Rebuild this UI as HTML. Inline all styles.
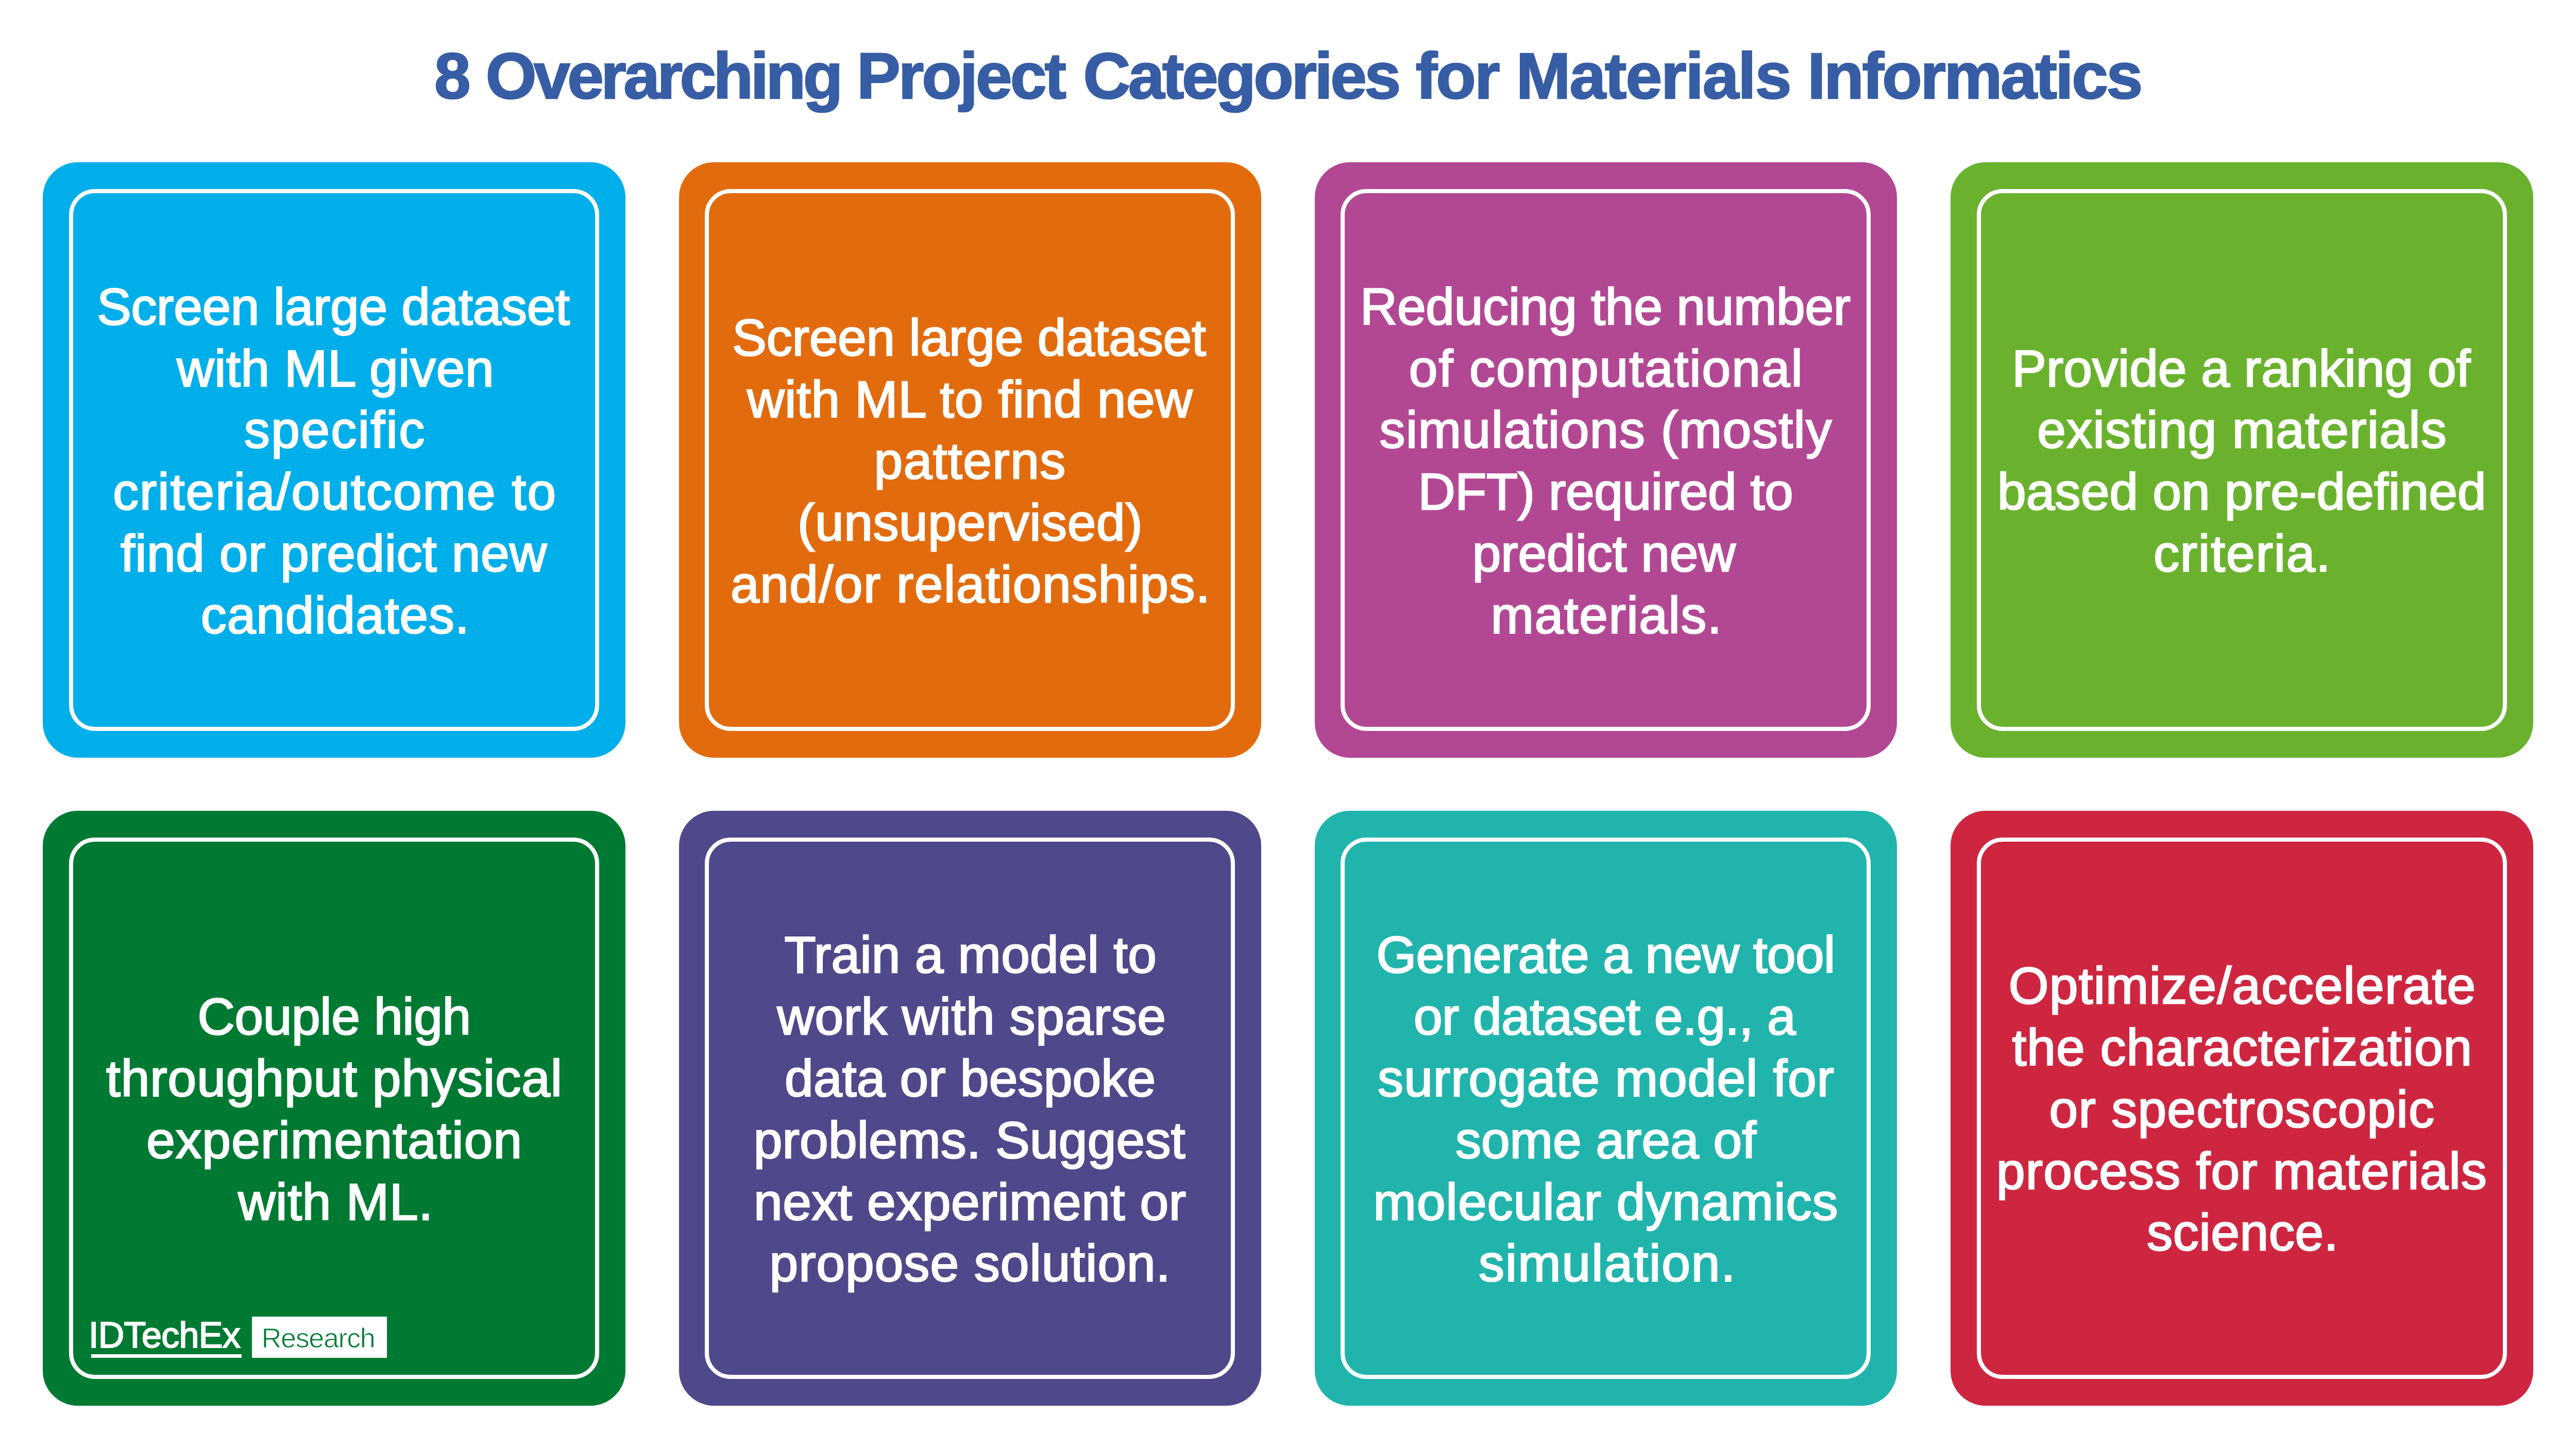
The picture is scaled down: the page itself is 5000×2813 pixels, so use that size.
<!DOCTYPE html>
<html><head><meta charset="utf-8"><style>
html,body{margin:0;padding:0;}
body{width:5000px;height:2813px;background:#fff;position:relative;overflow:hidden;font-family:"Liberation Sans",sans-serif;}
.tw{position:absolute;top:84.2px;font-weight:700;font-size:127px;color:#375DA5;-webkit-text-stroke:2.6px #375DA5;line-height:1;white-space:nowrap;}
.card{position:absolute;width:1130.5px;height:1155.5px;border-radius:68px;}
.inner{position:absolute;left:50.5px;top:52px;right:51px;bottom:52px;border:8.5px solid #fff;border-radius:50px;box-sizing:border-box;}
.txt{position:absolute;left:0;width:100%;text-align:center;color:#fff;font-size:100px;line-height:119.8px;white-space:nowrap;-webkit-text-stroke:2.6px #fff;}
.idt{position:absolute;left:172px;top:2556.8px;font-size:70px;letter-spacing:-0.7px;color:#fff;-webkit-text-stroke:2px #fff;white-space:nowrap;line-height:1;}
.ul{position:absolute;left:176.9px;top:2629px;width:292.2px;height:7px;background:#fff;}
.rbox{position:absolute;left:488.5px;top:2556.2px;width:262.4px;height:79.7px;background:#fff;}
.rbox span{position:absolute;left:19px;top:14.2px;font-size:54px;letter-spacing:-1.4px;color:#007A33;-webkit-text-stroke:1px #fff;white-space:nowrap;line-height:1;}
</style></head><body>
<div class="tw" style="left:842.9px;letter-spacing:0.00px">8</div><div class="tw" style="left:942.7px;letter-spacing:-5.46px">Overarching</div><div class="tw" style="left:1663.0px;letter-spacing:-3.98px">Project</div><div class="tw" style="left:2102.5px;letter-spacing:-4.41px">Categories</div><div class="tw" style="left:2747.8px;letter-spacing:-2.80px">for</div><div class="tw" style="left:2942.7px;letter-spacing:-2.00px">Materials</div><div class="tw" style="left:3508.3px;letter-spacing:-3.37px">Informatics</div>
<div class="card" style="left:83.4px;top:315.2px;background:#00AEEA">
<div class="inner"></div>
<div class="txt" style="top:220.7px"><div style="letter-spacing:-0.26px;margin-left:-3.8px">Screen large dataset</div><div style="letter-spacing:0.64px;margin-left:5.3px">with ML given</div><div style="letter-spacing:2.41px;margin-left:3.1px">specific</div><div style="letter-spacing:2.09px;margin-left:2.8px">criteria/outcome to</div><div style="letter-spacing:0.57px;margin-left:-1.4px">find or predict new</div><div style="letter-spacing:0.96px;margin-left:4.2px">candidates.</div></div>
</div>
<div class="card" style="left:1317.6px;top:315.2px;background:#E26B0E">
<div class="inner"></div>
<div class="txt" style="top:280.6px"><div style="letter-spacing:-0.17px;margin-left:-4.0px">Screen large dataset</div><div style="letter-spacing:0.67px;margin-left:-0.2px">with ML to find new</div><div style="letter-spacing:1.47px;margin-left:0.6px">patterns</div><div style="letter-spacing:0.62px;margin-left:0.4px">(unsupervised)</div><div style="letter-spacing:1.51px;margin-left:2.8px">and/or relationships.</div></div>
</div>
<div class="card" style="left:2551.8px;top:315.2px;background:#B24893">
<div class="inner"></div>
<div class="txt" style="top:220.7px"><div style="letter-spacing:-0.22px;margin-left:-2.2px">Reducing the number</div><div style="letter-spacing:2.00px;margin-left:1.4px">of computational</div><div style="letter-spacing:1.53px;margin-left:0.2px">simulations (mostly</div><div style="letter-spacing:-0.36px;margin-left:-1.4px">DFT) required to</div><div style="letter-spacing:-0.04px;margin-left:-7.8px">predict new</div><div style="letter-spacing:1.62px;margin-left:3.0px">materials.</div></div>
</div>
<div class="card" style="left:3786.0px;top:315.2px;background:#6AB22E">
<div class="inner"></div>
<div class="txt" style="top:340.5px"><div style="letter-spacing:0.04px;margin-left:-1.9px">Provide a ranking of</div><div style="letter-spacing:1.29px;margin-left:1.8px">existing materials</div><div style="letter-spacing:0.19px;margin-left:0.3px">based on pre-defined</div><div style="letter-spacing:1.93px;margin-left:2.5px">criteria.</div></div>
</div>
<div class="card" style="left:83.4px;top:1573.7px;background:#007A33">
<div class="inner"></div>
<div class="txt" style="top:340.5px"><div style="letter-spacing:-0.32px;margin-left:0.1px">Couple high</div><div style="letter-spacing:0.99px;margin-left:0.7px">throughput physical</div><div style="letter-spacing:1.24px;margin-left:1.3px">experimentation</div><div style="letter-spacing:0.79px;margin-left:5.9px">with ML.</div></div>
</div>
<div class="card" style="left:1317.6px;top:1573.7px;background:#4F488A">
<div class="inner"></div>
<div class="txt" style="top:220.7px"><div style="letter-spacing:0.24px;margin-left:1.8px">Train a model to</div><div style="letter-spacing:0.65px;margin-left:6.5px">work with sparse</div><div style="letter-spacing:0.21px;margin-left:0.8px">data or bespoke</div><div style="letter-spacing:0.25px;margin-left:-2.3px">problems. Suggest</div><div style="letter-spacing:0.64px;margin-left:-0.2px">next experiment or</div><div style="letter-spacing:1.02px;margin-left:0.3px">propose solution.</div></div>
</div>
<div class="card" style="left:2551.8px;top:1573.7px;background:#20B4AC">
<div class="inner"></div>
<div class="txt" style="top:220.7px"><div style="letter-spacing:-0.54px;margin-left:-1.0px">Generate a new tool</div><div style="letter-spacing:-0.51px;margin-left:-5.0px">or dataset e.g., a</div><div style="letter-spacing:1.04px;margin-left:1.0px">surrogate model for</div><div style="letter-spacing:0.04px;margin-left:-0.2px">some area of</div><div style="letter-spacing:1.08px;margin-left:0.1px">molecular dynamics</div><div style="letter-spacing:2.04px;margin-left:6.2px">simulation.</div></div>
</div>
<div class="card" style="left:3786.0px;top:1573.7px;background:#CE2640">
<div class="inner"></div>
<div class="txt" style="top:280.6px"><div style="letter-spacing:1.26px;margin-left:2.5px">Optimize/accelerate</div><div style="letter-spacing:1.05px;margin-left:2.3px">the characterization</div><div style="letter-spacing:1.29px;margin-left:1.4px">or spectroscopic</div><div style="letter-spacing:1.19px;margin-left:0.5px">process for materials</div><div style="letter-spacing:0.64px;margin-left:3.7px">science.</div></div>
</div>
<div class="idt">IDTechEx</div>
<div class="ul"></div>
<div class="rbox"><span>Research</span></div>
</body></html>
